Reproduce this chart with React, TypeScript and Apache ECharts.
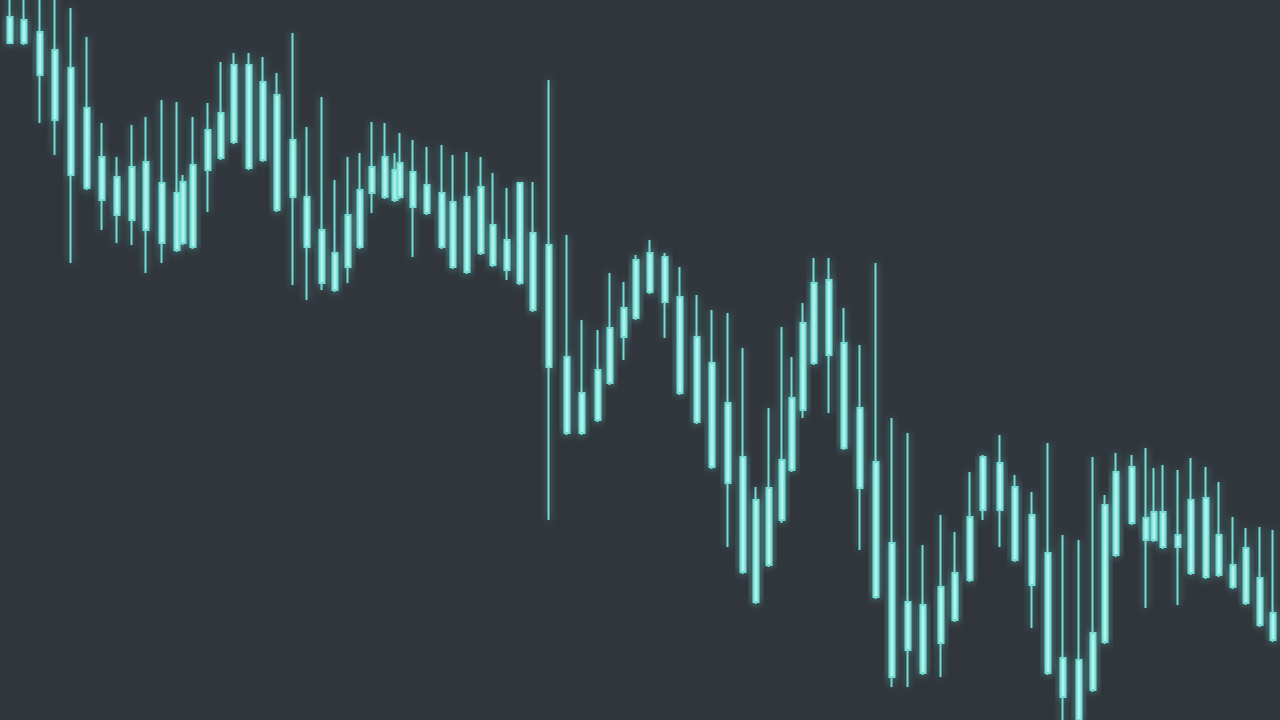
import React, { useEffect, useRef } from "react";
import * as echarts from "echarts";

// Time of each candle (session units)
const time = [
  10, 24, 40, 55, 71, 87, 102, 117, 132, 146,
  162, 177, 183, 193, 208, 221, 234, 249, 263, 277,
  293, 307, 322, 335, 348, 360, 372, 385, 395, 400,
  413, 427, 442, 453, 467, 481, 493, 507, 520, 533,
  549, 567, 582, 598, 610, 624, 636, 650, 665, 680,
  697, 712, 728, 743, 756, 769, 782, 792, 803, 814,
  829, 844, 860, 876, 892, 908, 923, 941, 955, 970,
  983, 1000, 1015, 1032, 1048, 1063, 1079, 1093, 1105, 1116,
  1132, 1146, 1154, 1163, 1178, 1191, 1206, 1219, 1233, 1246,
  1260, 1273,
];

const high = [
  725, 725, 725, 725, 712, 683, 597, 563, 595, 603,
  620, 618, 545, 603, 617, 658, 667, 667, 663, 647,
  687, 593, 623, 540, 563, 567, 598, 597, 567, 587,
  580, 573, 575, 565, 568, 563, 547, 532, 538, 538,
  640, 485, 400, 390, 447, 438, 465, 480, 467, 453,
  425, 410, 407, 372, 233, 312, 393, 363, 417, 462,
  462, 412, 375, 457, 302, 287, 175, 205, 188, 248,
  265, 285, 245, 228, 277, 185, 180, 263, 225, 267,
  265, 272, 252, 255, 250, 262, 253, 238, 203, 192,
  193, 190,
];

const bodyUpper = [
  703, 700, 688, 670, 652, 612, 563, 543, 553, 558,
  537, 527, 538, 555, 590, 607, 655, 655, 638, 625,
  580, 523, 490, 467, 505, 530, 553, 563, 550, 557,
  548, 535, 527, 518, 523, 533, 495, 480, 537, 487,
  475, 363, 327, 350, 392, 412, 460, 467, 463, 423,
  383, 357, 317, 263, 220, 232, 260, 322, 397, 437,
  440, 377, 312, 258, 177, 118, 115, 133, 147, 203,
  263, 257, 233, 205, 167, 62, 60, 87, 215, 248,
  253, 202, 208, 208, 185, 220, 222, 185, 155, 172,
  142, 107,
];

const bodyLower = [
  677, 677, 645, 600, 545, 532, 520, 505, 500, 490,
  477, 470, 477, 473, 550, 562, 578, 552, 560, 510,
  523, 473, 437, 430, 453, 473, 527, 523, 520, 523,
  513, 507, 473, 453, 448, 467, 455, 450, 437, 410,
  353, 287, 287, 300, 337, 383, 402, 428, 418, 327,
  298, 253, 237, 148, 118, 155, 200, 250, 310, 357,
  365, 272, 232, 123, 43, 70, 47, 77, 100, 140,
  210, 210, 160, 135, 47, 23, 0, 30, 78, 165,
  197, 180, 180, 173, 173, 147, 143, 145, 133, 117,
  95, 80,
];

const low = [
  677, 675, 597, 565, 457, 530, 490, 477, 475, 447,
  457, 468, 475, 471, 508, 560, 576, 550, 558, 508,
  435, 420, 430, 428, 437, 471, 507, 521, 518, 521,
  463, 505, 471, 451, 446, 465, 453, 440, 435, 408,
  200, 285, 285, 298, 335, 360, 400, 426, 382, 325,
  296, 251, 173, 146, 116, 153, 197, 248, 302, 355,
  307, 270, 170, 121, 33, 33, 45, 43, 98, 138,
  200, 173, 158, 92, 45, -5, -5, 28, 76, 163,
  195, 112, 178, 171, 115, 145, 141, 143, 131, 115,
  93, 78,
];

export default function App() {
  const ref = useRef<HTMLDivElement>(null);

  useEffect(() => {
    if (!ref.current) return;
    const chart = echarts.init(ref.current, undefined, { renderer: "svg" });
    const data = time.map((t, i) => [t, bodyUpper[i], bodyLower[i], low[i], high[i]]);
    chart.setOption({
      animation: false,
      backgroundColor: "#30363c",
      grid: { left: 0, right: 0, top: 0, bottom: 0 },
      xAxis: {
        type: "value",
        min: 0,
        max: 1280,
        show: false,
        splitLine: { show: false },
      },
      yAxis: {
        type: "value",
        min: 0,
        max: 720,
        show: false,
        splitLine: { show: false },
      },
      series: [
        {
          type: "candlestick",
          encode: { x: 0, y: [1, 2, 3, 4] },
          barWidth: 6,
          clip: false,
          itemStyle: {
            color: "#b0f3ec",
            color0: "#b0f3ec",
            borderColor: "#72dcd5",
            borderColor0: "#72dcd5",
            borderWidth: 2,
            shadowBlur: 8,
            shadowColor: "rgba(110,235,225,0.55)",
          },
          data,
        },
      ],
    });
    return () => chart.dispose();
  }, []);

  return (
    <div
      ref={ref}
      style={{ position: "fixed", left: 0, top: 0, width: 1280, height: 720 }}
    />
  );
}
